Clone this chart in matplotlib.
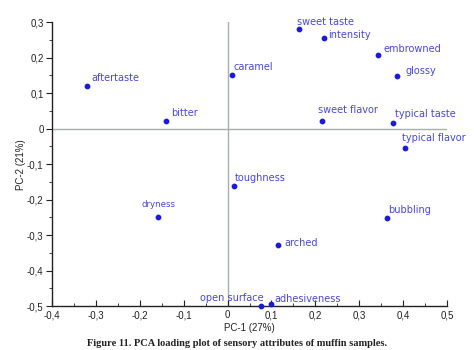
import matplotlib
matplotlib.use("Agg")
import matplotlib.pyplot as plt
from matplotlib.ticker import MultipleLocator, FuncFormatter

attributes = ["aftertaste", "bitter", "caramel", "sweet taste", "intensity",
              "embrowned", "glossy", "sweet flavor", "typical taste",
              "typical flavor", "toughness", "dryness", "bubbling", "arched",
              "open surface", "adhesiveness"]
pc1 = [-0.320, -0.141, 0.009, 0.162, 0.219, 0.343, 0.387, 0.216, 0.376,
       0.405, 0.015, -0.158, 0.364, 0.114, 0.077, 0.098]
pc2 = [0.121, 0.021, 0.152, 0.280, 0.257, 0.207, 0.148, 0.023, 0.017,
       -0.055, -0.162, -0.249, -0.253, -0.327, -0.500, -0.495]

# label placement (pixel offsets dx, dy-up, horizontal alignment)
label_style = {
    "aftertaste": (4, 8, "left"), "bitter": (5, 8, "left"),
    "caramel": (2, 8, "left"), "sweet taste": (-2, 7, "left"),
    "intensity": (4, 3, "left"), "embrowned": (5, 6, "left"),
    "glossy": (8, 5, "left"), "sweet flavor": (-4, 11, "left"),
    "typical taste": (2, 9, "left"), "typical flavor": (-3, 10, "left"),
    "toughness": (1, 8, "left"), "dryness": (0, 12, "center"),
    "bubbling": (1, 8, "left"), "arched": (7, 2, "left"),
    "open surface": (2, 8, "right"), "adhesiveness": (4, 5, "left"),
}

fig = plt.figure(figsize=(4.74, 3.5), dpi=100)
ax = fig.add_axes([52/474, 1-306/350, 395/474, (306-22.3)/350])

ax.plot([0, 0], [-0.5, 0.3], color="#a8adad", lw=1.0, zorder=1)
ax.plot([-0.4, 0.5], [0, 0], color="#a8adad", lw=1.0, zorder=1)
ax.scatter(pc1, pc2, s=10, color="#1a1ad8", zorder=3, clip_on=False)

k = 72/100
for name, x, y in zip(attributes, pc1, pc2):
    dx, dy, ha = label_style[name]
    fs = 6.2 if name == "dryness" else 7.0
    ax.annotate(name, (x, y), xytext=(dx*k, dy*k), textcoords="offset points",
                ha=ha, va="center", fontsize=fs, color="#4848d8",
                family="DejaVu Sans", annotation_clip=False)

ax.set_xlim(-0.4, 0.5)
ax.set_ylim(-0.5, 0.3)
for s in ["top", "right"]:
    ax.spines[s].set_visible(False)
for s in ["left", "bottom"]:
    ax.spines[s].set_linewidth(1.0)
    ax.spines[s].set_color("#222222")

fmt = FuncFormatter(lambda v, p: ("%.1f" % v).replace(".", ",") if abs(v) > 1e-9 else "0")
ax.xaxis.set_major_locator(MultipleLocator(0.1))
ax.xaxis.set_minor_locator(MultipleLocator(0.05))
ax.yaxis.set_major_locator(MultipleLocator(0.1))
ax.yaxis.set_minor_locator(MultipleLocator(0.05))
ax.xaxis.set_major_formatter(fmt)
ax.yaxis.set_major_formatter(fmt)
ax.tick_params(axis="x", which="major", direction="in", length=4, labelsize=7, pad=3, colors="#222222")
ax.tick_params(axis="x", which="minor", direction="in", length=2, colors="#222222")
ax.tick_params(axis="y", which="major", direction="out", length=4, labelsize=7, pad=2, colors="#222222")
ax.tick_params(axis="y", which="minor", direction="out", length=2, colors="#222222")
for lab in ax.get_xticklabels() + ax.get_yticklabels():
    lab.set_family("Liberation Sans")

ax.set_xlabel("PC-1 (27%)", fontsize=7, family="Liberation Sans", color="#222222", labelpad=2)
ax.set_ylabel("PC-2 (21%)", fontsize=7, family="Liberation Sans", color="#222222", labelpad=1)

fig.text(0.5, 0.018, "Figure 11. PCA loading plot of sensory attributes of muffin samples.",
         ha="center", va="center", fontsize=7.5, family="Liberation Serif",
         weight="bold", color="#222222")

fig.savefig("out.png", dpi=100, facecolor="white")
